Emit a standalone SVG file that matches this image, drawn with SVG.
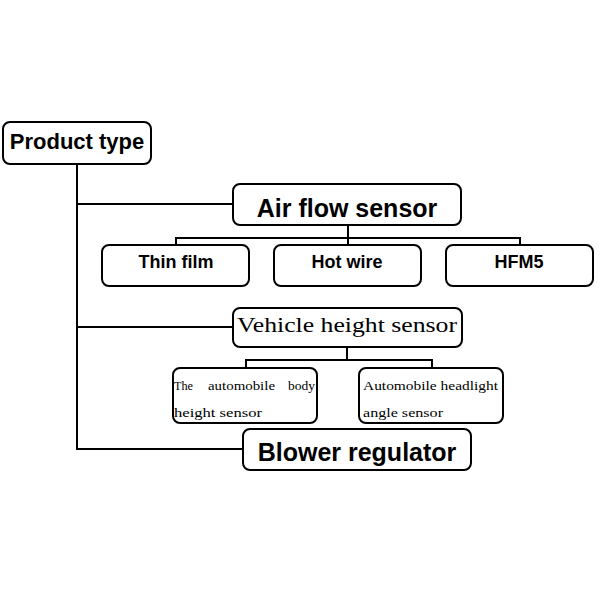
<svg xmlns="http://www.w3.org/2000/svg" width="600" height="600" viewBox="0 0 600 600">
<style>
.box{fill:#fff;stroke:#000;stroke-width:2}
.b{font-family:"Liberation Sans",Arial,sans-serif;font-weight:bold;fill:#000;text-anchor:middle}
.m{font-family:"Liberation Serif","Times New Roman",serif;fill:#000}
#connectors path{fill:none;stroke:#000;stroke-width:2}
</style>
<rect width="600" height="600" fill="#fff"/>
<g id="connectors">
<path d="M77 164V449H243"/>
<path d="M77 204H233"/>
<path d="M77 327H233"/>
<path d="M348 225V238M176 245V238H520V245M348 238V245"/>
<path d="M347 347V360M246 368V360H432V368"/>
</g>
<g id="product-type"><rect class="box" x="3" y="122" width="148" height="42" rx="7"/><text class="b" x="77" y="149" font-size="22">Product type</text></g>
<g id="air-flow-sensor"><rect class="box" x="233" y="184" width="228" height="41" rx="7"/><text class="b" x="347" y="217" font-size="25">Air flow sensor</text></g>
<g id="thin-film"><rect class="box" x="102" y="245" width="147" height="41" rx="7"/><text class="b" x="176" y="268" font-size="18">Thin film</text></g>
<g id="hot-wire"><rect class="box" x="274" y="245" width="147" height="41" rx="7"/><text class="b" x="347" y="268" font-size="18">Hot wire</text></g>
<g id="hfm5"><rect class="box" x="446" y="245" width="147" height="41" rx="7"/><text class="b" x="519" y="268" font-size="18">HFM5</text></g>
<g id="vehicle-height-sensor"><rect class="box" x="233" y="308" width="229" height="39" rx="7"/><text class="m" x="237" y="332" font-size="22" textLength="220" lengthAdjust="spacingAndGlyphs">Vehicle height sensor</text></g>
<g id="body-height-sensor"><rect class="box" x="173" y="368" width="144" height="55" rx="7"/><text class="m" y="390" font-size="13"><tspan x="174" textLength="19" lengthAdjust="spacingAndGlyphs">The</tspan><tspan x="208" textLength="67" lengthAdjust="spacingAndGlyphs">automobile</tspan><tspan x="288" textLength="27" lengthAdjust="spacingAndGlyphs">body</tspan></text><text class="m" x="174" y="417" font-size="13" textLength="88" lengthAdjust="spacingAndGlyphs">height sensor</text></g>
<g id="headlight-angle-sensor"><rect class="box" x="359" y="368" width="144" height="55" rx="7"/><text class="m" x="363" y="390" font-size="13" textLength="135" lengthAdjust="spacingAndGlyphs">Automobile headlight</text><text class="m" x="363" y="417" font-size="13" textLength="80" lengthAdjust="spacingAndGlyphs">angle sensor</text></g>
<g id="blower-regulator"><rect class="box" x="243" y="429" width="228" height="41" rx="7"/><text class="b" x="357" y="461" font-size="25">Blower regulator</text></g>
</svg>
